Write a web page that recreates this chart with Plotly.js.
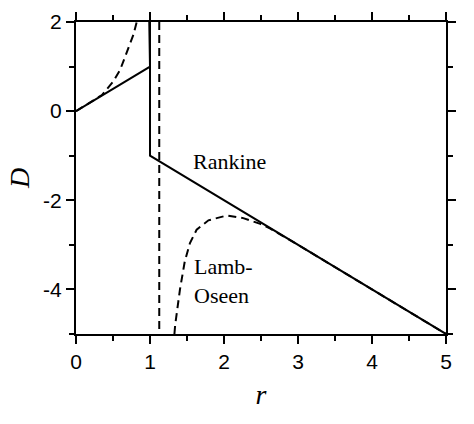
<!DOCTYPE html>
<html>
<head>
<meta charset="utf-8">
<script src="https://cdn.plot.ly/plotly-3.0.1.min.js"></script>
<style>html,body{margin:0;padding:0;background:#fff;}#chart{width:474px;height:424px;}</style>
</head>
<body>
<div id="chart"></div>
<script>
// Rankine vortex (solid)
const rankineR = [0, 1, 0.99, null, 1, 1, 5];
const rankineD = [0, 1, 2, null, 2, -1, -5];

// Lamb-Oseen vortex (dashed)
const lambLeftR = [0, 0.2, 0.35, 0.41, 0.5, 0.595, 0.685, 0.775, 0.82];
const lambLeftD = [0, 0.2, 0.36, 0.48, 0.66, 0.92, 1.30, 1.71, 2.0];
const lambAsymR = [1.125, 1.125];
const lambAsymD = [2, -5];
const lambRightR = [1.33, 1.34, 1.405, 1.47, 1.54, 1.63, 1.79, 2.04, 2.26, 2.49, 2.62, 3.0, 5];
const lambRightD = [-5, -4.8, -4.0, -3.37, -2.96, -2.66, -2.45, -2.34, -2.40, -2.53, -2.63, -3.0, -5];

const xTicks = [0, 1, 2, 3, 4, 5];
const yTicks = [-4, -2, 0, 2];

const lamb = {r: [], d: []};
[[lambLeftR, lambLeftD], [lambAsymR, lambAsymD], [lambRightR, lambRightD]].forEach((p, i) => {
  if (i > 0) { lamb.r.push(null); lamb.d.push(null); }
  lamb.r.push(...p[0]); lamb.d.push(...p[1]);
});

const traces = [
  {x: lamb.r, y: lamb.d, mode: 'lines', line: {color: '#000', width: 2, dash: '8px,5px'}, connectgaps: false, hoverinfo: 'skip'},
  {x: rankineR, y: rankineD, mode: 'lines', line: {color: '#000', width: 2}, connectgaps: false, hoverinfo: 'skip'}
];

const tickFont = {family: 'Liberation Sans, Arial, sans-serif', size: 21, color: '#000'};
const serif = 'Liberation Serif, Times New Roman, serif';

const layout = {
  width: 474, height: 424,
  margin: {l: 76, r: 28, t: 22, b: 90},
  paper_bgcolor: '#fff', plot_bgcolor: '#fff',
  showlegend: false,
  xaxis: {
    range: [0, 5], tickvals: xTicks, ticktext: xTicks.map(String),
    ticks: 'outside', ticklen: 8, tickwidth: 2, tickcolor: '#000',
    minor: {dtick: 0.5, ticks: 'outside', ticklen: 5, tickwidth: 2, tickcolor: '#000'},
    showline: true, mirror: 'allticks', linewidth: 2, linecolor: '#000', showgrid: false, zeroline: false,
    tickfont: tickFont,
    title: {text: '<i>r</i>', font: {family: serif, size: 28, color: '#000'}, standoff: 12}
  },
  yaxis: {
    range: [-5, 2], tickvals: yTicks, ticktext: yTicks.map(String),
    ticks: 'outside', ticklen: 8, tickwidth: 2, tickcolor: '#000',
    minor: {dtick: 1, ticks: 'outside', ticklen: 5, tickwidth: 2, tickcolor: '#000'},
    showline: true, mirror: 'allticks', linewidth: 2, linecolor: '#000', showgrid: false, zeroline: false,
    tickfont: tickFont,
    title: {text: '<i>D</i>', font: {family: serif, size: 28, color: '#000'}, standoff: 5}
  },
  annotations: [
    {x: 2.08, y: -1.12, xref: 'x', yref: 'y', text: 'Rankine', showarrow: false,
     font: {family: serif, size: 22, color: '#000'}, xanchor: 'center', yanchor: 'middle'},
    {x: 1.57, y: -3.8, xref: 'x', yref: 'y', text: 'Lamb-<br>Oseen', showarrow: false, align: 'left',
     font: {family: serif, size: 22, color: '#000'}, xanchor: 'left', yanchor: 'middle'}
  ]
};

Plotly.newPlot('chart', traces, layout, {staticPlot: true, displayModeBar: false});
</script>
</body>
</html>
